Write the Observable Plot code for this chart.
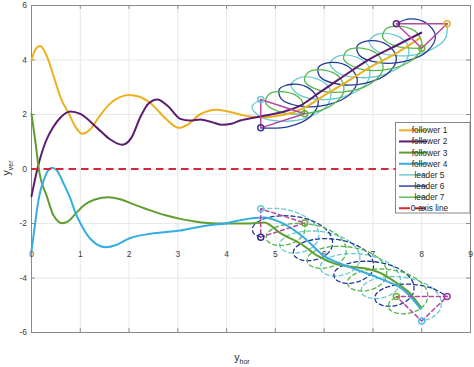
<!DOCTYPE html>
<html>
<head>
<meta charset="utf-8">
<script src="https://cdn.jsdelivr.net/npm/d3@7"></script>
<script src="https://cdn.jsdelivr.net/npm/@observablehq/plot@0.6"></script>
<style>
  html, body { margin: 0; padding: 0; background: #ffffff; }
  svg { display: block; }
</style>
</head>
<body>
<div id="chart"></div>
<script>
// ---------- data ----------
const xTicks = [0, 1, 2, 3, 4, 5, 6, 7, 8, 9];
const yTicks = [-6, -4, -2, 0, 2, 4, 6];
const seriesNames = ["follower 1", "follower 2", "follower 3", "follower 4", "leader 5", "leader 6", "leader 7", "0-axis line"];
const zeroAxis = [0];

const follower1 = [[0,4.0],[0.08,4.38],[0.18,4.51],[0.3,4.2],[0.46,3.37],[0.6,2.6],[0.77,2.02],[0.9,1.55],[1.04,1.29],[1.2,1.45],[1.4,1.95],[1.6,2.38],[1.8,2.63],[2.0,2.72],[2.2,2.66],[2.47,2.37],[2.75,1.85],[3.02,1.51],[3.22,1.65],[3.45,2.0],[3.8,2.17],[4.1,2.08],[4.4,1.95],[4.7,1.9],[5.2,2.0],[5.6,2.25],[6.0,2.7],[6.3,3.02],[6.95,3.74],[7.5,4.27],[7.96,4.8]];
const follower2 = [[0,-1.0],[0.12,0],[0.29,1.0],[0.45,1.55],[0.6,1.9],[0.8,2.11],[1.0,2.02],[1.35,1.5],[1.6,1.1],[1.86,0.89],[2.05,1.15],[2.23,1.9],[2.4,2.4],[2.58,2.55],[2.8,2.3],[3.05,1.84],[3.25,1.78],[3.46,1.82],[3.7,1.72],[3.91,1.62],[4.1,1.66],[4.28,1.78],[4.7,1.93],[5.2,2.12],[5.5,2.32],[5.9,2.8],[6.27,3.25],[6.95,4.05],[7.5,4.55],[7.99,5.0]];
const follower3 = [[0,2.02],[0.08,1.0],[0.15,0],[0.32,-1.03],[0.45,-1.7],[0.63,-1.99],[0.75,-1.92],[0.9,-1.65],[1.07,-1.34],[1.3,-1.12],[1.58,-1.04],[1.8,-1.1],[2.1,-1.3],[2.44,-1.52],[2.75,-1.7],[3.05,-1.83],[3.35,-1.93],[3.6,-1.98],[4.0,-2.0],[4.4,-2.0],[4.77,-1.96],[5.1,-2.35],[5.55,-2.78],[5.85,-3.17],[6.26,-3.5],[6.6,-3.6],[6.88,-3.66],[7.16,-3.82],[7.36,-4.03],[7.5,-4.2],[7.75,-4.55],[7.98,-5.07]];
const follower4 = [[0,-3.0],[0.06,-2.2],[0.12,-1.4],[0.18,-0.82],[0.25,-0.42],[0.33,-0.08],[0.42,0.05],[0.52,-0.05],[0.66,-0.54],[0.8,-1.1],[0.9,-1.6],[1.0,-1.98],[1.2,-2.55],[1.52,-2.87],[1.75,-2.78],[2.0,-2.55],[2.44,-2.38],[3.05,-2.26],[3.6,-2.07],[4.0,-1.99],[4.3,-1.87],[4.77,-1.78],[5.1,-1.95],[5.59,-2.52],[6.0,-3.2],[6.3,-3.45],[6.61,-3.66],[7.16,-4.03],[7.64,-4.46],[7.98,-5.13]];

// leaders, upper group (solid)
const leader5Up = [[4.70,2.55],[4.52,2.285],[4.68,1.93],[5.145,1.75],[5.70,1.91],[6.08,2.375],[6.12,2.93],[5.855,3.31],
  [5.50,3.35],[5.32,3.085],[5.48,2.73],[5.945,2.55],[6.50,2.71],[6.88,3.175],[6.92,3.73],[6.655,4.11],
  [6.30,4.15],[6.12,3.885],[6.28,3.53],[6.745,3.35],[7.30,3.51],[7.68,3.975],[7.72,4.53],[7.455,4.91],
  [7.10,4.95],[6.92,4.685],[7.08,4.33],[7.545,4.15],[8.10,4.31],[8.48,4.775],[8.52,5.33]];
const leader6Up = [[4.70,1.51],[5.255,1.55],[5.72,1.93],[5.88,2.485],[5.70,2.95],[5.345,3.11],[5.08,2.93],[5.12,2.575],
  [5.50,2.31],[6.055,2.35],[6.52,2.73],[6.68,3.285],[6.50,3.75],[6.145,3.91],[5.88,3.73],[5.92,3.375],
  [6.30,3.11],[6.855,3.15],[7.32,3.53],[7.48,4.085],[7.30,4.55],[6.945,4.71],[6.68,4.53],[6.72,4.175],
  [7.10,3.91],[7.655,3.95],[8.12,4.33],[8.28,4.885],[8.10,5.35],[7.745,5.51],[7.48,5.33]];
const leader7Up = [[5.60,2.03],[5.524,2.554],[5.20,2.83],[4.876,2.754],[4.80,2.43],[5.076,2.106],[5.60,2.03],[6.124,2.306],
  [6.40,2.83],[6.324,3.354],[6.00,3.63],[5.676,3.554],[5.60,3.23],[5.876,2.906],[6.40,2.83],[6.924,3.106],
  [7.20,3.63],[7.124,4.154],[6.80,4.43],[6.476,4.354],[6.40,4.03],[6.676,3.706],[7.20,3.63],[7.724,3.906],
  [8.00,4.43],[7.924,4.954],[7.60,5.23],[7.276,5.154],[7.20,4.83],[7.476,4.506],[8.00,4.43]];

// leaders, lower group (dashed)
const leader5Low = [[4.70,-1.46],[5.07,-1.45],[5.44,-1.60],[5.73,-1.89],[5.88,-2.26],[5.87,-2.63],[5.72,-2.92],[5.49,-3.07],[5.26,-3.06],[5.11,-2.91],[5.10,-2.68],[5.25,-2.45],
  [5.54,-2.30],[5.91,-2.29],[6.28,-2.44],[6.57,-2.73],[6.72,-3.10],[6.71,-3.47],[6.56,-3.76],[6.33,-3.91],[6.10,-3.90],[5.95,-3.75],[5.93,-3.51],[6.08,-3.28],
  [6.37,-3.13],[6.74,-3.12],[7.11,-3.27],[7.40,-3.56],[7.55,-3.93],[7.54,-4.30],[7.39,-4.59],[7.16,-4.74],[6.93,-4.73],[6.78,-4.58],[6.77,-4.35],[6.92,-4.12],
  [7.21,-3.97],[7.58,-3.96],[7.95,-4.11],[8.24,-4.40],[8.39,-4.77],[8.38,-5.14],[8.23,-5.43],[8.00,-5.58]];
const leader6Low = [[4.70,-2.50],[4.55,-2.35],[4.54,-2.12],[4.69,-1.89],[4.98,-1.74],[5.35,-1.73],[5.72,-1.88],[6.01,-2.17],[6.16,-2.54],[6.15,-2.91],[6.00,-3.20],[5.77,-3.35],
  [5.54,-3.34],[5.39,-3.19],[5.38,-2.96],[5.53,-2.73],[5.82,-2.58],[6.19,-2.57],[6.56,-2.72],[6.85,-3.01],[7.00,-3.38],[6.99,-3.75],[6.83,-4.03],[6.60,-4.18],
  [6.37,-4.17],[6.22,-4.02],[6.21,-3.79],[6.36,-3.56],[6.65,-3.41],[7.02,-3.40],[7.39,-3.55],[7.68,-3.84],[7.83,-4.21],[7.82,-4.58],[7.67,-4.87],[7.44,-5.02],
  [7.21,-5.01],[7.06,-4.86],[7.05,-4.63],[7.20,-4.40],[7.49,-4.25],[7.86,-4.24],[8.23,-4.39],[8.52,-4.68]];
const leader7Low = [[5.60,-1.98],[5.59,-2.35],[5.44,-2.64],[5.21,-2.79],[4.98,-2.78],[4.83,-2.63],[4.82,-2.40],[4.97,-2.17],[5.26,-2.02],[5.63,-2.01],[6.00,-2.16],[6.29,-2.45],
  [6.44,-2.82],[6.43,-3.19],[6.28,-3.48],[6.05,-3.63],[5.82,-3.62],[5.67,-3.47],[5.66,-3.24],[5.81,-3.01],[6.10,-2.86],[6.47,-2.85],[6.83,-2.99],[7.12,-3.28],
  [7.27,-3.65],[7.26,-4.02],[7.11,-4.31],[6.88,-4.46],[6.65,-4.45],[6.50,-4.30],[6.49,-4.07],[6.64,-3.84],[6.93,-3.69],[7.30,-3.68],[7.67,-3.83],[7.96,-4.12],
  [8.11,-4.49],[8.10,-4.86],[7.95,-5.15],[7.72,-5.30],[7.49,-5.29],[7.34,-5.14],[7.33,-4.91],[7.48,-4.68]];

// ---------- styles ----------
const C = {
  f1: "#EDB120", f2: "#5c1c70", f3: "#5e9e2e", f4: "#36ade2",
  l5: "#68c9d1", l6: "#213a98", l7: "#53b84c", zero: "#d8263a", tri: "#b3489f"
};
const legendColors = [C.f1, C.f2, C.f3, C.f4, C.l5, C.l6, C.l7, C.zero];
const legendWidths = [2, 2, 2, 2, 1.4, 1.4, 1.4, 2];

const X = d => d[0], Y = d => d[1];
const first = a => a[0], last = a => a[a.length - 1];

const triUpStart = [first(leader5Up), first(leader6Up), first(leader7Up), first(leader5Up)];
const triUpEnd = [last(leader5Up), last(leader6Up), last(leader7Up), last(leader5Up)];
const triLowStart = [first(leader5Low), first(leader6Low), first(leader7Low), first(leader5Low)];
const triLowEnd = [last(leader5Low), last(leader6Low), last(leader7Low), last(leader5Low)];

const markers = [
  {p: first(leader5Up), c: C.l5}, {p: first(leader6Up), c: "#3a2f8a"}, {p: first(leader7Up), c: "#6aa63a"},
  {p: last(leader6Up), c: "#5a2a80"}, {p: last(leader5Up), c: "#EDB120"}, {p: last(leader7Up), c: "#77AC30"},
  {p: first(leader5Low), c: C.l5}, {p: first(leader6Low), c: "#2a2f90"}, {p: first(leader7Low), c: "#6aa63a"},
  {p: last(leader7Low), c: "#77AC30"}, {p: last(leader6Low), c: "#9a3aa0"}, {p: last(leader5Low), c: "#4DBEEE"}
];

const leaderLine = (data, color, dashed) => Plot.line(data, {
  x: X, y: Y, stroke: color, strokeWidth: 1.3, curve: "catmull-rom",
  strokeDasharray: dashed ? "4,3" : null
});
const followerLine = (data, color) => Plot.line(data, {
  x: X, y: Y, stroke: color, strokeWidth: 2, curve: "monotone-x"
});

const FONT = "'Liberation Sans', Arial, Helvetica, sans-serif";

const plot = Plot.plot({
  width: 474, height: 367,
  marginLeft: 31, marginRight: 4, marginTop: 5, marginBottom: 35,
  x: {domain: [0, 9], axis: null},
  y: {domain: [-6, 6], axis: null},
  color: {type: "identity"},
  style: {fontFamily: FONT, fontSize: "8.5px", background: "#ffffff", overflow: "visible"},
  marks: [
    Plot.gridX(xTicks, {stroke: "#e2e2e2", strokeOpacity: 1, strokeWidth: 0.8}),
    Plot.gridY(yTicks, {stroke: "#e2e2e2", strokeOpacity: 1, strokeWidth: 0.8}),
    // inward ticks on all four sides
    Plot.ruleX(xTicks, {y1: -6, y2: -5.86, stroke: "#8a8a8a"}),
    Plot.ruleX(xTicks, {y1: 6, y2: 5.86, stroke: "#8a8a8a"}),
    Plot.ruleY(yTicks, {x1: 0, x2: 0.08, stroke: "#8a8a8a"}),
    Plot.ruleY(yTicks, {x1: 9, x2: 8.92, stroke: "#8a8a8a"}),
    Plot.frame({stroke: "#8a8a8a", strokeWidth: 1}),
    // tick labels
    Plot.text(xTicks, {x: d => d, frameAnchor: "bottom", dy: -76, text: d => String(d), fill: "#404040", fontSize: 8.5}),
    Plot.text(yTicks, {y: d => d, frameAnchor: "left", dx: -4.5, textAnchor: "end", text: d => String(d), fill: "#404040", fontSize: 8.5}),
    // leaders
    leaderLine(leader5Up, C.l5, false),
    leaderLine(leader6Up, C.l6, false),
    leaderLine(leader7Up, C.l7, false),
    leaderLine(leader5Low, C.l5, true),
    leaderLine(leader6Low, C.l6, true),
    leaderLine(leader7Low, C.l7, true),
    // followers
    followerLine(follower1, C.f1),
    followerLine(follower2, C.f2),
    followerLine(follower3, C.f3),
    followerLine(follower4, C.f4),
    // 0-axis line
    Plot.ruleY(zeroAxis, {stroke: C.zero, strokeWidth: 2, strokeDasharray: "7.5,5"}),
    // formation triangles
    Plot.line(triUpStart, {x: X, y: Y, stroke: C.tri, strokeWidth: 1.5}),
    Plot.line(triUpEnd, {x: X, y: Y, stroke: C.tri, strokeWidth: 1.5}),
    Plot.line(triLowStart, {x: X, y: Y, stroke: C.tri, strokeWidth: 1.5, strokeDasharray: "4,3"}),
    Plot.line(triLowEnd, {x: X, y: Y, stroke: C.tri, strokeWidth: 1.5, strokeDasharray: "4,3"}),
    Plot.dot(markers, {x: d => d.p[0], y: d => d.p[1], r: 3, stroke: d => d.c, strokeWidth: 1.5, fill: "none"})
  ]
});

document.getElementById("chart").appendChild(plot);

// ---------- axis labels with subscripts ----------
const svg = d3.select(plot);
const xl = svg.append("text").attr("x", 242).attr("y", 361).attr("fill", "#262626")
  .style("font-family", FONT).style("font-size", "10.5px");
xl.append("tspan").text("y");
xl.append("tspan").attr("dy", 3).style("font-size", "7px").text("hor");

const yl = svg.append("text").attr("transform", "translate(9.5,168) rotate(-90)")
  .attr("text-anchor", "middle").attr("fill", "#262626")
  .style("font-family", FONT).style("font-size", "10.5px");
yl.append("tspan").text("y");
yl.append("tspan").attr("dy", 3).style("font-size", "7px").text("ver");

// ---------- legend ----------
const lg = svg.append("g").style("font-family", FONT).style("font-size", "8.3px");
lg.append("rect").attr("x", 395.5).attr("y", 122.5).attr("width", 74.5).attr("height", 90.5)
  .attr("fill", "#ffffff").attr("stroke", "#6a6a6a").attr("stroke-width", 0.8);
seriesNames.forEach((name, i) => {
  const y = 130.3 + i * 11.15;
  lg.append("line").attr("x1", 399).attr("x2", 427).attr("y1", y).attr("y2", y)
    .attr("stroke", legendColors[i]).attr("stroke-width", legendWidths[i])
    .attr("stroke-dasharray", i === 7 ? "11,5" : null);
  lg.append("text").attr("x", 429.5).attr("y", y).attr("dy", "0.35em").attr("fill", "#262626").text(name);
});
</script>
</body>
</html>
